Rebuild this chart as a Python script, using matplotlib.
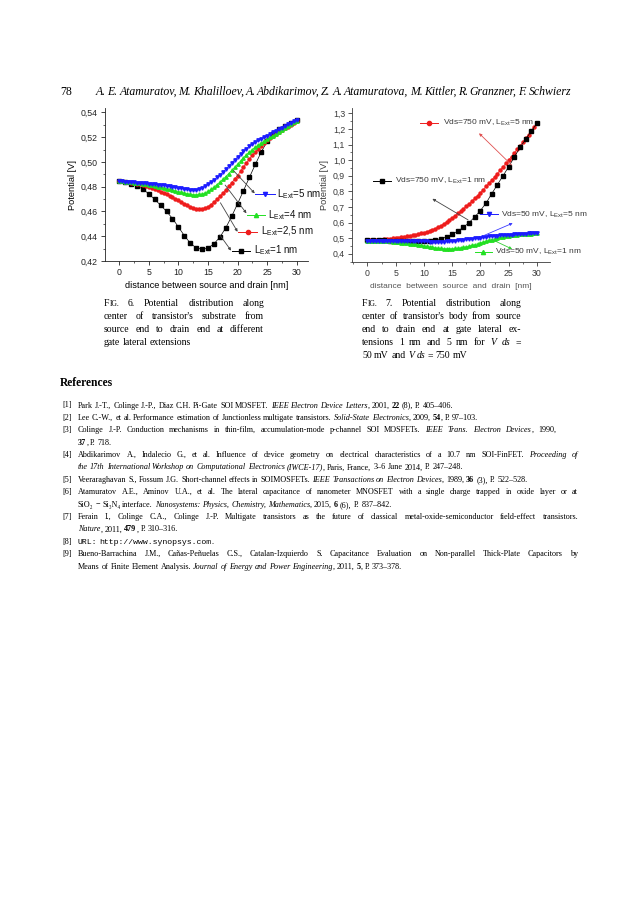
import numpy as np
import matplotlib
matplotlib.use("Agg")
import matplotlib.pyplot as plt
from matplotlib.ticker import MultipleLocator, FuncFormatter

SANS = ["Liberation Sans", "DejaVu Sans"]
SERIF = ["Liberation Serif", "DejaVu Serif"]
plt.rcParams["font.family"] = SANS
plt.rcParams["mathtext.fontset"] = "custom"
plt.rcParams["mathtext.rm"] = "Liberation Sans"
plt.rcParams["mathtext.it"] = "Liberation Sans:italic"

# ---- data (potential [V] along the channel) ----
dist_half = np.arange(0, 30.5, 0.5)   # 0..30 nm, 0.5 nm step
dist_int = np.arange(0, 31, 1)        # 0..30 nm, 1 nm step

# Fig. 6 (Vds = 50 mV)
pot_lext5 = [0.4845, 0.4843, 0.4841, 0.4839, 0.4837, 0.4835, 0.4833, 0.4831, 0.4829, 0.4827,
             0.4825, 0.4822, 0.4819, 0.4816, 0.4813, 0.4810, 0.4806, 0.4802, 0.4798, 0.4794,
             0.4790, 0.4786, 0.4782, 0.4778, 0.4775, 0.4774, 0.4776, 0.4781, 0.4790, 0.4803,
             0.4818, 0.4836, 0.4855, 0.4875, 0.4895, 0.4917, 0.4941, 0.4966, 0.4991, 0.5016,
             0.5040, 0.5063, 0.5085, 0.5106, 0.5125, 0.5142, 0.5158, 0.5173, 0.5187, 0.5200,
             0.5212, 0.5225, 0.5238, 0.5251, 0.5264, 0.5277, 0.5289, 0.5302, 0.5315, 0.5327,
             0.5340]
pot_lext4 = [0.4845, 0.4843, 0.4840, 0.4838, 0.4835, 0.4832, 0.4829, 0.4826, 0.4823, 0.4820,
             0.4815, 0.4811, 0.4806, 0.4801, 0.4796, 0.4790, 0.4784, 0.4778, 0.4772, 0.4766,
             0.4760, 0.4754, 0.4748, 0.4743, 0.4739, 0.4736, 0.4735, 0.4737, 0.4742, 0.4750,
             0.4762, 0.4778, 0.4796, 0.4816, 0.4837, 0.4859, 0.4882, 0.4906, 0.4931, 0.4956,
             0.4982, 0.5008, 0.5033, 0.5057, 0.5079, 0.5100, 0.5119, 0.5137, 0.5153, 0.5168,
             0.5183, 0.5198, 0.5213, 0.5228, 0.5243, 0.5258, 0.5273, 0.5288, 0.5303, 0.5318,
             0.5333]
pot_lext25 = [0.4845, 0.4842, 0.4839, 0.4836, 0.4832, 0.4828, 0.4823, 0.4818, 0.4813, 0.4807,
              0.4800, 0.4791, 0.4781, 0.4771, 0.4760, 0.4749, 0.4738, 0.4727, 0.4715, 0.4703,
              0.4690, 0.4676, 0.4662, 0.4649, 0.4637, 0.4627, 0.4620, 0.4617, 0.4619, 0.4626,
              0.4639, 0.4656, 0.4676, 0.4698, 0.4722, 0.4748, 0.4775, 0.4803, 0.4832, 0.4861,
              0.4890, 0.4924, 0.4958, 0.4991, 0.5023, 0.5053, 0.5081, 0.5107, 0.5131, 0.5153,
              0.5173, 0.5191, 0.5208, 0.5224, 0.5240, 0.5255, 0.5270, 0.5285, 0.5300, 0.5315,
              0.5330]
pot_lext1 = [0.4845, 0.4840, 0.4825, 0.4806, 0.4780, 0.4742, 0.4697, 0.4650, 0.4600, 0.4543,
             0.4475, 0.4405, 0.4345, 0.4306, 0.4295, 0.4305, 0.4338, 0.4392, 0.4467, 0.4560,
             0.4662, 0.4768, 0.4875, 0.4980, 0.5080, 0.5165, 0.5228, 0.5267, 0.5293, 0.5315,
             0.5335]

# Fig. 7
vds750_lext5 = [0.487, 0.487, 0.488, 0.489, 0.490, 0.491, 0.493, 0.494, 0.496, 0.498,
                0.500, 0.502, 0.505, 0.508, 0.511, 0.514, 0.518, 0.522, 0.526, 0.530,
                0.535, 0.541, 0.547, 0.554, 0.561, 0.570, 0.580, 0.591, 0.603, 0.616,
                0.630, 0.644, 0.658, 0.673, 0.688, 0.704, 0.720, 0.737, 0.755, 0.773,
                0.792, 0.811, 0.831, 0.851, 0.872, 0.893, 0.914, 0.935, 0.957, 0.979,
                1.001, 1.023, 1.046, 1.069, 1.092, 1.115, 1.139, 1.163, 1.187, 1.211,
                1.236]
vds750_lext1 = [0.485, 0.485, 0.485, 0.485, 0.484, 0.484, 0.483, 0.482, 0.481, 0.481,
                0.481, 0.483, 0.488, 0.496, 0.508, 0.524, 0.545, 0.570, 0.600, 0.636,
                0.677, 0.725, 0.785, 0.843, 0.900, 0.958, 1.020, 1.081, 1.134, 1.186,
                1.236]
vds50_lext5 = pot_lext5
vds50_lext1 = [0.4845, 0.4843, 0.4840, 0.4836, 0.4830, 0.4822, 0.4813, 0.4802, 0.4790, 0.4775,
               0.4758, 0.4739, 0.4718, 0.4695, 0.4671, 0.4646, 0.4620, 0.4592, 0.4563, 0.4532,
               0.4500, 0.4468, 0.4437, 0.4408, 0.4382, 0.4360, 0.4342, 0.4330, 0.4323, 0.4322,
               0.4326, 0.4337, 0.4355, 0.4380, 0.4411, 0.4448, 0.4490, 0.4536, 0.4585, 0.4637,
               0.4690, 0.4744, 0.4798, 0.4851, 0.4905, 0.4956, 0.5003, 0.5046, 0.5085, 0.5119,
               0.5150, 0.5175, 0.5197, 0.5216, 0.5233, 0.5249, 0.5264, 0.5279, 0.5294, 0.5309,
               0.5325]

BLUE, GREEN, RED, BLACK = "#1c1cff", "#22e022", "#ee1c1c", "#000000"

W, H = 638, 902
fig = plt.figure(figsize=(W / 100, H / 100), dpi=100)
renderer = fig.canvas.get_renderer()


def comma_fmt(nd):
    return FuncFormatter(lambda v, p: f"{v:.{nd}f}".replace(".", ","))


def style_axes(ax, color):
    for s in ["top", "right"]:
        ax.spines[s].set_visible(False)
    for s in ["left", "bottom"]:
        ax.spines[s].set_linewidth(0.6)
        ax.spines[s].set_color(color)
    ax.tick_params(which="major", direction="out", length=3, width=0.6, labelsize=6.3,
                   colors=color, pad=2)
    ax.tick_params(which="minor", direction="out", length=1.6, width=0.5, colors=color)


def legend_item(ax, x0, x1, y, marker, color, label, tx, fs, tcolor):
    ax.plot([x0, x1], [y, y], color=color, lw=0.7, clip_on=False)
    ax.plot([(x0 + x1) / 2], [y], marker=marker, color=color, ms=3, clip_on=False)
    ax.text(tx, y, label, fontsize=fs, va="center", ha="left", color=tcolor)


def arrow(ax, head, tail, color):
    ax.annotate("", xy=head, xytext=tail,
                arrowprops=dict(arrowstyle="-|>", color=color, lw=0.6,
                                shrinkA=0, shrinkB=0, mutation_scale=4))


# ---------- Fig. 6 ----------
ax1 = fig.add_axes([105 / W, 1 - 261 / H, 203 / W, 153 / H])
ax1.plot(dist_int, pot_lext1, "s-", color=BLACK, ms=2.8, lw=0.5)
ax1.plot(dist_half, pot_lext25, "o-", color=RED, ms=2.2, lw=0.5)
ax1.plot(dist_half, pot_lext4, "^-", color=GREEN, ms=2.4, lw=0.5)
ax1.plot(dist_half, pot_lext5, "v-", color=BLUE, ms=2.4, lw=0.5)
ax1.set_xlim(-2.4, 31.9)
ax1.set_ylim(0.42, 0.5435)
ax1.xaxis.set_major_locator(MultipleLocator(5))
ax1.xaxis.set_minor_locator(MultipleLocator(2.5))
ax1.yaxis.set_major_locator(MultipleLocator(0.02))
ax1.yaxis.set_minor_locator(MultipleLocator(0.01))
ax1.yaxis.set_major_formatter(comma_fmt(2))
style_axes(ax1, "#222222")
ax1.set_xlabel("distance between source and drain [nm]", fontsize=6.6, labelpad=3)
ax1.set_ylabel("Potential [V]", fontsize=6.6, labelpad=3)

arrow(ax1, (22.9, 0.4746), (19.3, 0.4930), "#444444")
arrow(ax1, (21.5, 0.4585), (17.9, 0.4813), "#444444")
arrow(ax1, (20.0, 0.4436), (17.1, 0.4670), "#444444")
arrow(ax1, (18.9, 0.4284), (17.0, 0.4410), "#444444")
legend_item(ax1, 23.0, 26.3, 0.4738, "v", BLUE, r"L$_{\mathrm{Ext}}$=5 nm", 26.7, 7, "#111111")
legend_item(ax1, 21.6, 24.6, 0.4570, "^", GREEN, r"L$_{\mathrm{Ext}}$=4 nm", 25.2, 7, "#111111")
legend_item(ax1, 20.1, 23.3, 0.4437, "o", RED, r"L$_{\mathrm{Ext}}$=2,5 nm", 23.9, 7, "#111111")
legend_item(ax1, 19.0, 22.1, 0.4284, "s", BLACK, r"L$_{\mathrm{Ext}}$=1 nm", 22.7, 7, "#111111")

# ---------- Fig. 7 ----------
GRAY = "#3a3a3a"
ax2 = fig.add_axes([352 / W, 1 - 262 / H, 198 / W, 154 / H])
ax2.plot(dist_half, vds750_lext5, "o-", color=RED, ms=2.2, lw=0.5)
ax2.plot(dist_int, vds750_lext1, "s-", color=BLACK, ms=2.6, lw=0.5)
ax2.plot(dist_half, vds50_lext1, "^-", color=GREEN, ms=2.4, lw=0.5)
ax2.plot(dist_half, vds50_lext5, "v-", color=BLUE, ms=2.4, lw=0.5)
ax2.set_xlim(-2.72, 32.3)
ax2.set_ylim(0.347, 1.334)
ax2.xaxis.set_major_locator(MultipleLocator(5))
ax2.xaxis.set_minor_locator(MultipleLocator(2.5))
ax2.yaxis.set_major_locator(MultipleLocator(0.1))
ax2.yaxis.set_minor_locator(MultipleLocator(0.05))
ax2.yaxis.set_major_formatter(comma_fmt(1))
style_axes(ax2, GRAY)
ax2.set_xlabel("distance  between  source  and  drain  [nm]", fontsize=6.0, labelpad=4,
               color="#555555")
ax2.set_ylabel("Potential [V]", fontsize=6.6, labelpad=3, color=GRAY)

arrow(ax2, (19.75, 1.172), (25.5, 0.969), "#e05050")
arrow(ax2, (11.5, 0.752), (17.8, 0.617), "#444444")
arrow(ax2, (25.7, 0.596), (20.5, 0.515), "#3a3aff")
arrow(ax2, (25.6, 0.430), (21.8, 0.495), "#33cc33")
legend_item(ax2, 9.25, 12.5, 1.236, "o", RED, r"Vds=750 mV, L$_{\mathrm{Ext}}$=5 nm", 13.4, 6.0, GRAY)
legend_item(ax2, 1.0, 4.25, 0.867, "s", BLACK, r"Vds=750 mV, L$_{\mathrm{Ext}}$=1 nm", 4.8, 6.0, GRAY)
legend_item(ax2, 19.9, 23.1, 0.652, "v", BLUE, r"Vds=50 mV, L$_{\mathrm{Ext}}$=5 nm", 23.7, 6.0, GRAY)
legend_item(ax2, 19.0, 22.0, 0.409, "^", GREEN, r"Vds=50 mV, L$_{\mathrm{Ext}}$=1 nm", 22.5, 6.0, GRAY)

# ---------- page text ----------
STYLES = {
    "r": dict(family=SERIF),
    "i": dict(family=SERIF, style="italic"),
    "b": dict(family=SERIF, weight="bold"),
    "m": dict(family=["Liberation Mono", "DejaVu Sans Mono"]),
}


def text_width(s, size, st):
    t = fig.text(0, 0, s, fontsize=size, **STYLES[st])
    w = t.get_window_extent(renderer).width
    t.remove()
    return w


def draw_line(x0, y0, runs, size, width=None):
    tokens = []
    pending = False
    for run in runs:
        s, st = run[0], run[1]
        sz = size * (run[2] if len(run) > 2 else 1)
        parts = s.split(" ")
        for k, p in enumerate(parts):
            if k > 0:
                pending = True
            if p == "":
                continue
            tokens.append((p, st, sz, pending and len(tokens) > 0))
            pending = False
    widths = [text_width(p, sz, st) for p, st, sz, _ in tokens]
    nsp = sum(1 for tk in tokens if tk[3])
    sp = text_width("a a", size, "r") - text_width("aa", size, "r")
    if width is not None and nsp:
        sp = (width - sum(widths)) / nsp
    x = x0
    for (p, st, sz, spb), w in zip(tokens, widths):
        if spb:
            x += sp
        fig.text(x / W, 1 - y0 / H, p, fontsize=sz, va="baseline", ha="left", **STYLES[st])
        x += w


# header
draw_line(60, 95, [("78", "r")], 8.5)
draw_line(96, 95, [("A. E. Atamuratov, M. Khalilloev, A. Abdikarimov, Z. A. Atamuratova, "
                    "M. Kittler, R. Granzner, F. Schwierz", "i")], 8.5, width=475)

# captions
CAP = 7.0
cap6 = [
    ([("F", "r"), ("IG.", "r", 0.78), (" 6. Potential distribution along", "r")], True),
    ([("center of transistor's substrate from", "r")], True),
    ([("source end to drain end at different", "r")], True),
    ([("gate lateral extensions", "r")], False),
]
cap7 = [
    ([("F", "r"), ("IG.", "r", 0.78), (" 7. Potential distribution along", "r")], True),
    ([("center of transistor's body from source", "r")], True),
    ([("end to drain end at gate lateral ex-", "r")], True),
    ([("tensions 1 nm and 5 nm for ", "r"), ("V ds", "i"), (" =", "r")], True),
    ([("50 mV and ", "r"), ("V ds", "i"), (" = 750 mV", "r")], False),
]
for k, (runs, just) in enumerate(cap6):
    draw_line(104, 306 + 13 * k, runs, CAP, width=160 if just else None)
for k, (runs, just) in enumerate(cap7):
    draw_line(362, 306 + 13 * k, runs, CAP, width=159 if just else None)

# references
draw_line(60, 386, [("References", "b")], 8.3)
REF = 5.85
RX = 78
refs = [
    ("[1]", [([("Park J.-T., Colinge J.-P., Diaz C.H. Pi-Gate SOI MOSFET. ", "r"),
               ("IEEE Electron Device Letters", "i"), (", 2001, ", "r"), ("22", "b"),
               (" (8), P. 405–406.", "r")], None)]),
    ("[2]", [([("Lee C.-W., et al. Performance estimation of Junctionless multigate transistors. ", "r"),
               ("Solid-State Electronics", "i"), (", 2009, ", "r"), ("54", "b"),
               (", P. 97–103.", "r")], None)]),
    ("[3]", [([("Colinge J.-P. Conduction mechanisms in thin-film, accumulation-mode p-channel "
                "SOI MOSFETs. ", "r"), ("IEEE Trans. Electron Devices", "i"), (", 1990,", "r")], 478),
             ([("37", "b"), (", P. 718.", "r")], None)]),
    ("[4]", [([("Abdikarimov A., Indalecio G., et al. Influence of device geometry on electrical "
                "characteristics of a 10.7 nm SOI-FinFET. ", "r"), ("Proceeding of", "i")], 500),
             ([("the 17th International Workshop on Computational Electronics (IWCE-17)", "i"),
               (", Paris, France, 3–6 June 2014, P. 247–248.", "r")], None)]),
    ("[5]", [([("Veeraraghavan S., Fossum J.G. Short-channel effects in SOIMOSFETs. ", "r"),
               ("IEEE Transactions on Electron Devices", "i"), (", 1989, ", "r"), ("36", "b"),
               (" (3), P. 522–528.", "r")], None)]),
    ("[6]", [([("Atamuratov A.E., Aminov U.A., et al. The lateral capacitance of nanometer MNOSFET "
                "with a single charge trapped in oxide layer or at", "r")], 500),
             ([("SiO₂ − Si₃N₄ interface. ", "r"), ("Nanosystems: Physics, Chemistry, Mathematics", "i"),
               (", 2015, ", "r"), ("6", "b"), (" (6), P. 837–842.", "r")], None)]),
    ("[7]", [([("Ferain I., Colinge C.A., Colinge J.-P. Multigate transistors as the future of classical "
                "metal-oxide-semiconductor field-effect transistors.", "r")], 500),
             ([("Nature", "i"), (", 2011, ", "r"), ("479", "b"), (", P. 310–316.", "r")], None)]),
    ("[8]", [([("URL: http://www.synopsys.com", "m"), (".", "r")], None)]),
    ("[9]", [([("Bueno-Barrachina J.M., Cañas-Peñuelas C.S., Catalan-Izquierdo S. Capacitance "
                "Evaluation on Non-parallel Thick-Plate Capacitors by", "r")], 500),
             ([("Means of Finite Element Analysis. ", "r"), ("Journal of Energy and Power Engineering", "i"),
               (", 2011, ", "r"), ("5", "b"), (", P. 373–378.", "r")], None)]),
]
y = 407.5
for num, lines in refs:
    draw_line(62, y, [(num, "r")], REF)
    for runs, width in lines:
        draw_line(RX, y, runs, REF, width=width)
        y += 12.4

fig.savefig("out.png", dpi=100)
